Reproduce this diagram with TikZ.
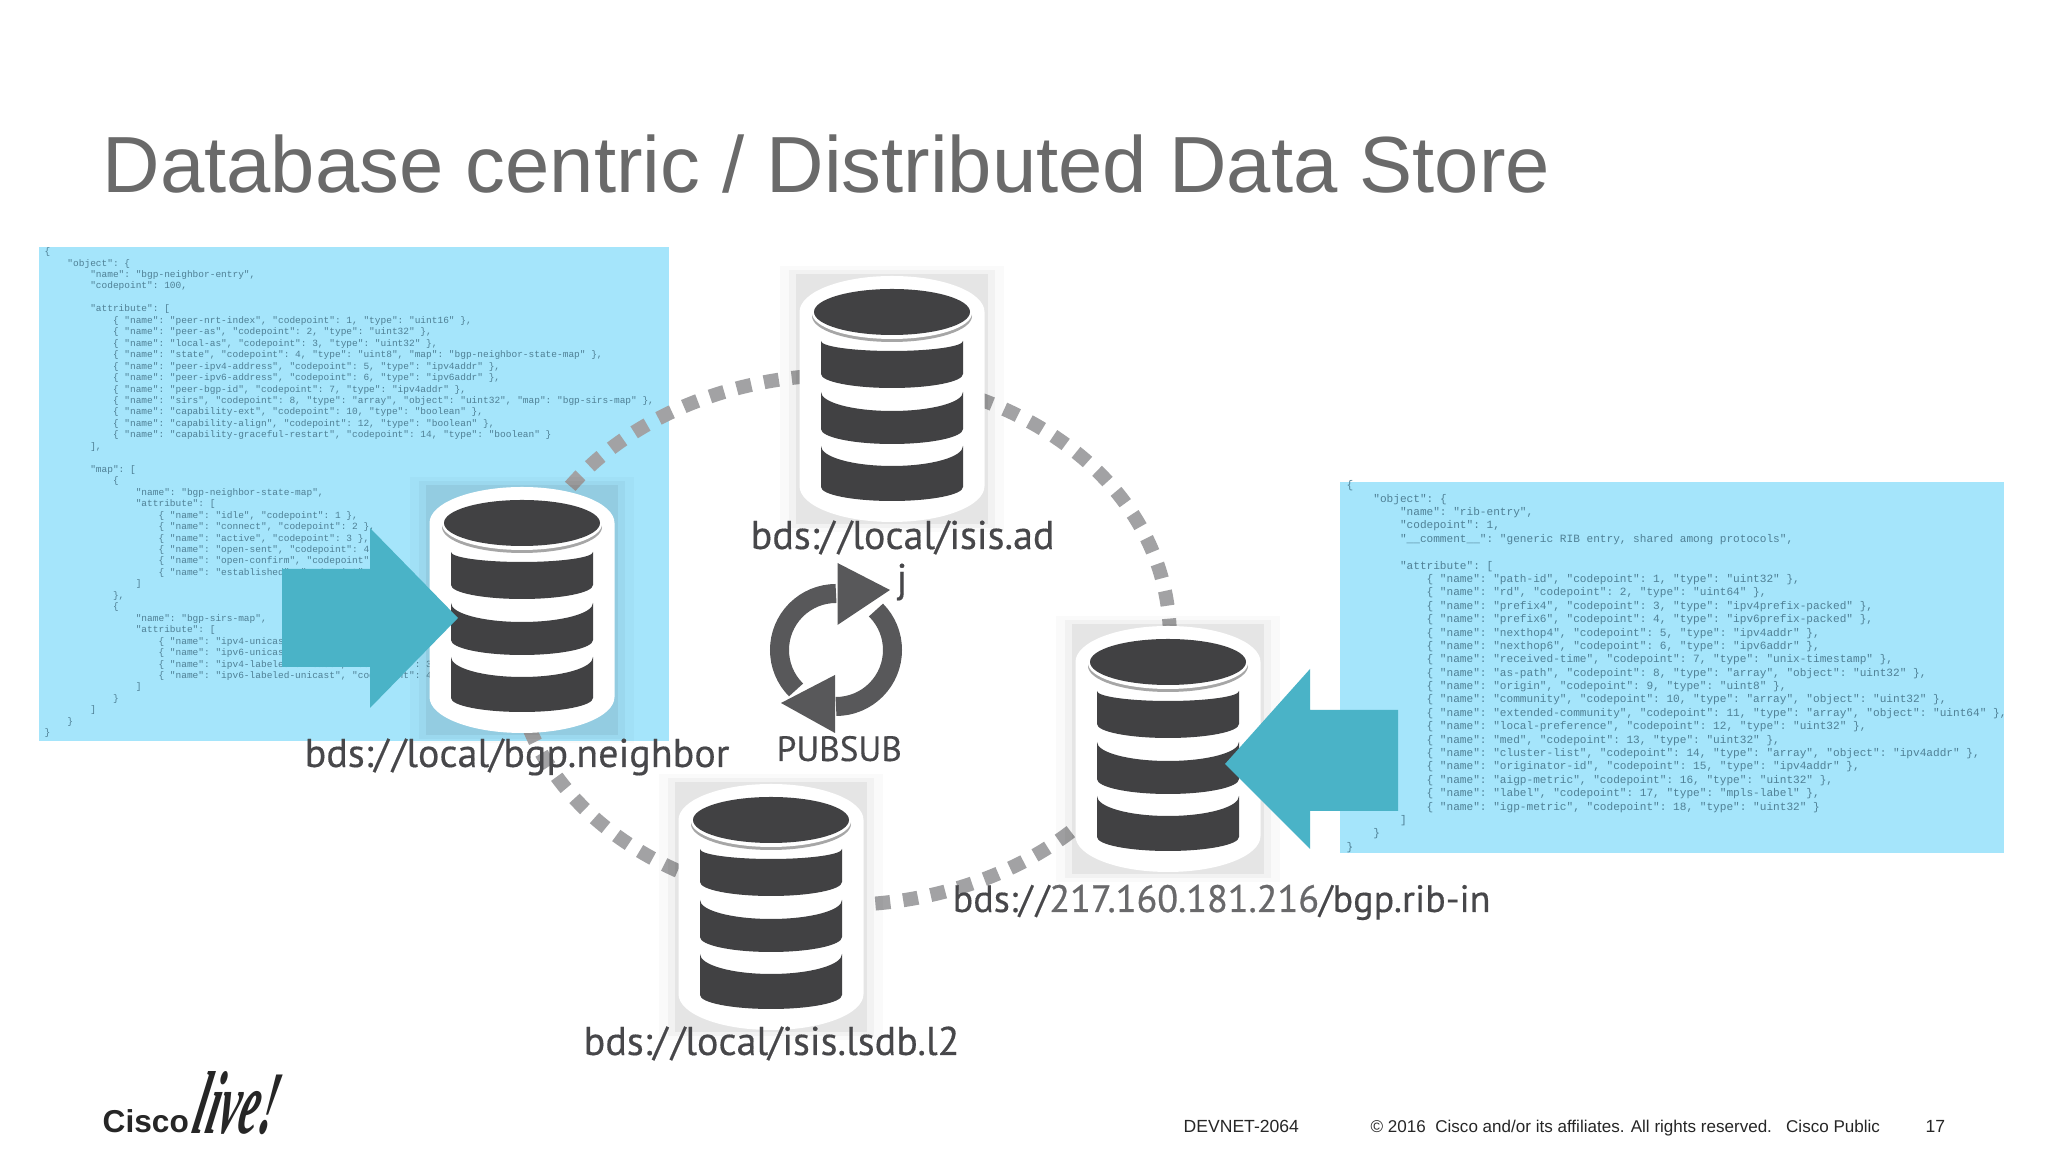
\documentclass[tikz,border=0pt]{standalone}
\usepackage{fontspec}
\setmainfont{Liberation Sans}
\setmonofont{Liberation Mono}
\newfontfamily\labelfont[FakeBold=0.35]{PT Sans}
\newfontfamily\digitfont[FakeBold=0.7]{PT Sans}
\newfontfamily\livefont{Liberation Serif}
\newcommand{\jsgap}[1]{\hspace*{#1}}
\newcommand{\dslash}{/\kern0.09em/}
\definecolor{panelblue}{HTML}{A5E5FB}
\definecolor{arrowteal}{HTML}{4AB3C7}
\definecolor{dbdark}{HTML}{414143}
\definecolor{titlegray}{HTML}{6A6A6A}
\definecolor{labelgray}{HTML}{47474A}
\definecolor{digitgray}{HTML}{69696B}
\definecolor{syncgray}{HTML}{58585A}
\definecolor{ringgray}{HTML}{A2A2A4}
\definecolor{jsontext}{HTML}{4F8095}
\tikzset{
  panelbox/.style={fill=panelblue, draw=none},
  jsonleft/.style={inner sep=0, anchor=north west, align=left, text=jsontext, font=\ttfamily\fontsize{2.7}{3.26}\selectfont},
  jsonright/.style={inner sep=0, anchor=north west, align=left, text=jsontext, font=\ttfamily\fontsize{3.16}{3.81}\selectfont},
  dblabel/.style={inner sep=0, anchor=base west, text=labelgray, font=\labelfont\fontsize{#1}{12}\selectfont},
  dblabel/.default=11.4,
  footertext/.style={inner sep=0, anchor=base west, text=black!85, font=\fontsize{#1}{6}\selectfont},
  footertext/.default=5,
  ringline/.style={ringgray, line width=0.14cm, dash pattern=on 0.15cm off 0.13cm},
  syncarc/.style={syncgray, line width=0.19cm},
  dbstack/.pic={
    % soft halo
    \fill[black, opacity=0.02] (-1.12,-1.33) rectangle (1.12,1.33);
    \fill[black, opacity=0.03] (-1.03,-1.29) rectangle (1.03,1.29);
    \fill[black, opacity=0.05] (-0.96,-1.25) rectangle (0.96,1.25);
    % white body
    \fill[white] (-0.925,0.87) arc[start angle=180, end angle=0, x radius=0.925, y radius=0.36]
      -- (0.925,-0.87) arc[start angle=360, end angle=180, x radius=0.925, y radius=0.36] -- cycle;
    % top disc
    \fill[black!35] (0,0.83) ellipse[x radius=0.80, y radius=0.26];
    \fill[white] (0,0.86) ellipse[x radius=0.80, y radius=0.26];
    \fill[dbdark] (0,0.87) ellipse[x radius=0.78, y radius=0.23];
    % three bands
    \fill[dbdark] (-0.71,0.58) arc[start angle=180, end angle=360, x radius=0.71, y radius=0.10]
      -- (0.71,0.25) arc[start angle=360, end angle=180, x radius=0.71, y radius=0.14] -- cycle;
    \fill[dbdark] (-0.71,0.07) arc[start angle=180, end angle=360, x radius=0.71, y radius=0.19]
      -- (0.71,-0.30) arc[start angle=360, end angle=180, x radius=0.71, y radius=0.15] -- cycle;
    \fill[dbdark] (-0.71,-0.47) arc[start angle=180, end angle=360, x radius=0.71, y radius=0.20]
      -- (0.71,-0.88) arc[start angle=360, end angle=180, x radius=0.71, y radius=0.14] -- cycle;
  }
}
\begin{document}
\begin{tikzpicture}
  \useasboundingbox (0,0) rectangle (20.48,11.52);
  \fill[white] (0,0) rectangle (20.48,11.52);

  \node[inner sep=0, anchor=base west, text=titlegray, font=\fontsize{22.66}{28}\selectfont] (title) at (1.02,9.59) {Database centric / Distributed Data Store};

  % schema panels
  \fill[panelbox] (0.39,4.11) rectangle (6.69,9.05);
  \fill[panelbox] (13.40,2.99) rectangle (20.04,6.70);

  \node[jsonleft] (schemaleft) at (0.44,9.05) {
\{\\
\jsgap{2.4em}"object": \{\\
\jsgap{4.8em}"name": "bgp-neighbor-entry",\\
\jsgap{4.8em}"codepoint": 100,\\
\mbox{}\\
\jsgap{4.8em}"attribute": [\\
\jsgap{7.2em}\{ "name": "peer-nrt-index", "codepoint": 1, "type": "uint16" \},\\
\jsgap{7.2em}\{ "name": "peer-as", "codepoint": 2, "type": "uint32" \},\\
\jsgap{7.2em}\{ "name": "local-as", "codepoint": 3, "type": "uint32" \},\\
\jsgap{7.2em}\{ "name": "state", "codepoint": 4, "type": "uint8", "map": "bgp-neighbor-state-map" \},\\
\jsgap{7.2em}\{ "name": "peer-ipv4-address", "codepoint": 5, "type": "ipv4addr" \},\\
\jsgap{7.2em}\{ "name": "peer-ipv6-address", "codepoint": 6, "type": "ipv6addr" \},\\
\jsgap{7.2em}\{ "name": "peer-bgp-id", "codepoint": 7, "type": "ipv4addr" \},\\
\jsgap{7.2em}\{ "name": "sirs", "codepoint": 8, "type": "array", "object": "uint32", "map": "bgp-sirs-map" \},\\
\jsgap{7.2em}\{ "name": "capability-ext", "codepoint": 10, "type": "boolean" \},\\
\jsgap{7.2em}\{ "name": "capability-align", "codepoint": 12, "type": "boolean" \},\\
\jsgap{7.2em}\{ "name": "capability-graceful-restart", "codepoint": 14, "type": "boolean" \}\\
\jsgap{4.8em}],\\
\mbox{}\\
\jsgap{4.8em}"map": [\\
\jsgap{7.2em}\{\\
\jsgap{9.6em}"name": "bgp-neighbor-state-map",\\
\jsgap{9.6em}"attribute": [\\
\jsgap{12em}\{ "name": "idle", "codepoint": 1 \},\\
\jsgap{12em}\{ "name": "connect", "codepoint": 2 \},\\
\jsgap{12em}\{ "name": "active", "codepoint": 3 \},\\
\jsgap{12em}\{ "name": "open-sent", "codepoint": 4 \},\\
\jsgap{12em}\{ "name": "open-confirm", "codepoint": 5 \},\\
\jsgap{12em}\{ "name": "established", "codepoint": 6 \}\\
\jsgap{9.6em}]\\
\jsgap{7.2em}\},\\
\jsgap{7.2em}\{\\
\jsgap{9.6em}"name": "bgp-sirs-map",\\
\jsgap{9.6em}"attribute": [\\
\jsgap{12em}\{ "name": "ipv4-unicast", "codepoint": 1 \},\\
\jsgap{12em}\{ "name": "ipv6-unicast", "codepoint": 2 \},\\
\jsgap{12em}\{ "name": "ipv4-labeled-unicast", "codepoint": 3 \},\\
\jsgap{12em}\{ "name": "ipv6-labeled-unicast", "codepoint": 4 \}\\
\jsgap{9.6em}]\\
\jsgap{7.2em}\}\\
\jsgap{4.8em}]\\
\jsgap{2.4em}\}\\
\}
  };

  \node[jsonright] (schemaright) at (13.46,6.72) {
\{\\
\jsgap{2.4em}"object": \{\\
\jsgap{4.8em}"name": "rib-entry",\\
\jsgap{4.8em}"codepoint": 1,\\
\jsgap{4.8em}"\_\_comment\_\_": "generic RIB entry, shared among protocols",\\
\mbox{}\\
\jsgap{4.8em}"attribute": [\\
\jsgap{7.2em}\{ "name": "path-id", "codepoint": 1, "type": "uint32" \},\\
\jsgap{7.2em}\{ "name": "rd", "codepoint": 2, "type": "uint64" \},\\
\jsgap{7.2em}\{ "name": "prefix4", "codepoint": 3, "type": "ipv4prefix-packed" \},\\
\jsgap{7.2em}\{ "name": "prefix6", "codepoint": 4, "type": "ipv6prefix-packed" \},\\
\jsgap{7.2em}\{ "name": "nexthop4", "codepoint": 5, "type": "ipv4addr" \},\\
\jsgap{7.2em}\{ "name": "nexthop6", "codepoint": 6, "type": "ipv6addr" \},\\
\jsgap{7.2em}\{ "name": "received-time", "codepoint": 7, "type": "unix-timestamp" \},\\
\jsgap{7.2em}\{ "name": "as-path", "codepoint": 8, "type": "array", "object": "uint32" \},\\
\jsgap{7.2em}\{ "name": "origin", "codepoint": 9, "type": "uint8" \},\\
\jsgap{7.2em}\{ "name": "community", "codepoint": 10, "type": "array", "object": "uint32" \},\\
\jsgap{7.2em}\{ "name": "extended-community", "codepoint": 11, "type": "array", "object": "uint64" \},\\
\jsgap{7.2em}\{ "name": "local-preference", "codepoint": 12, "type": "uint32" \},\\
\jsgap{7.2em}\{ "name": "med", "codepoint": 13, "type": "uint32" \},\\
\jsgap{7.2em}\{ "name": "cluster-list", "codepoint": 14, "type": "array", "object": "ipv4addr" \},\\
\jsgap{7.2em}\{ "name": "originator-id", "codepoint": 15, "type": "ipv4addr" \},\\
\jsgap{7.2em}\{ "name": "aigp-metric", "codepoint": 16, "type": "uint32" \},\\
\jsgap{7.2em}\{ "name": "label", "codepoint": 17, "type": "mpls-label" \},\\
\jsgap{7.2em}\{ "name": "igp-metric", "codepoint": 18, "type": "uint32" \}\\
\jsgap{4.8em}]\\
\jsgap{2.4em}\}\\
\}
  };

  % database places
  \coordinate (neighbor) at (5.22,5.42);
  \coordinate (adj) at (8.92,7.53);
  \coordinate (rib) at (11.68,4.03);
  \coordinate (lsdb) at (7.71,2.45);

  % ring, its ends hidden behind the databases
  \coordinate (ringwest) at (5.12,5.12);
  \coordinate (ringnorth) at (8.41,7.77);
  \coordinate (ringeast) at (11.70,5.12);
  \coordinate (ringsouth) at (8.41,2.47);
  \draw[ringline] (ringwest) to[out=90, in=180, looseness=1] (ringnorth);
  \draw[ringline] (ringnorth) to[out=0, in=90, looseness=1] (ringeast);
  \draw[ringline] (ringeast) to[out=-90, in=0, looseness=1] (ringsouth);
  \draw[ringline] (ringsouth) to[out=180, in=-90, looseness=1] (ringwest);

  \pic at (neighbor) {dbstack};
  \pic at (adj) {dbstack};
  \pic at (rib) {dbstack};
  \pic at (lsdb) {dbstack};

  % in and out arrows
  \fill[arrowteal] (2.82,5.83) -- (3.70,5.83) -- (3.70,6.24) -- (4.58,5.34) -- (3.70,4.44) -- (3.70,4.85) -- (2.82,4.85) -- cycle;
  \fill[arrowteal] (13.98,4.42) -- (13.10,4.42) -- (13.10,4.83) -- (12.25,3.88) -- (13.10,3.03) -- (13.10,3.41) -- (13.98,3.41) -- cycle;

  % pubsub sign
  \draw[syncarc] (8.36,5.02) ++(225:0.565) arc[start angle=225, end angle=90, radius=0.565];
  \draw[syncarc] (8.36,5.02) ++(45:0.565) arc[start angle=45, end angle=-90, radius=0.565];
  \fill[syncgray] (8.375,5.89) -- (8.90,5.62) -- (8.375,5.27) -- cycle;
  \fill[syncgray] (8.35,4.77) -- (7.81,4.49) -- (8.35,4.19) -- cycle;

  % labels
  \node[dblabel] (labelneighbor) at (3.04,3.85) {bds:\dslash local/bgp.neighbor};
  \node[dblabel=11.4] (labeladj) at (7.50,6.03) {bds:\dslash local/isis.ad};
  \node[dblabel=11.4] (labeladjend) at (8.96,5.60) {j};
  \node[dblabel=10] (labelpubsub) at (7.76,3.91) {PUBSUB};
  \node[dblabel=10.85] (labelrib) at (9.52,2.40) {bds:\dslash{\digitfont\textcolor{digitgray}{217.160.181.216}}/bgp.rib-in};
  \node[dblabel=11.4] (labellsdb) at (5.83,0.97) {bds:\dslash local/isis.lsdb.l2};

  % footer
  \node[inner sep=0, anchor=base west, text=black!85, font=\bfseries\fontsize{9}{10}\selectfont] (cisco) at (1.02,0.19) {Cisco};
  \node[inner sep=0, anchor=base west, text=black!85, font=\livefont\bfseries\itshape, transform shape, xslant=0.22] (live) at (1.90,0.18) {\resizebox{0.82cm}{0.62cm}{live!}};
  \node[footertext] (session) at (11.83,0.19) {DEVNET-2064};
  \node[footertext=4.85] (rights) at (13.70,0.19) {\textcopyright{} 2016\ \ Cisco and/or its affiliates. All rights reserved.\ \ \ Cisco Public};
  \node[footertext] (pagenum) at (19.25,0.19) {17};
\end{tikzpicture}
\end{document}
